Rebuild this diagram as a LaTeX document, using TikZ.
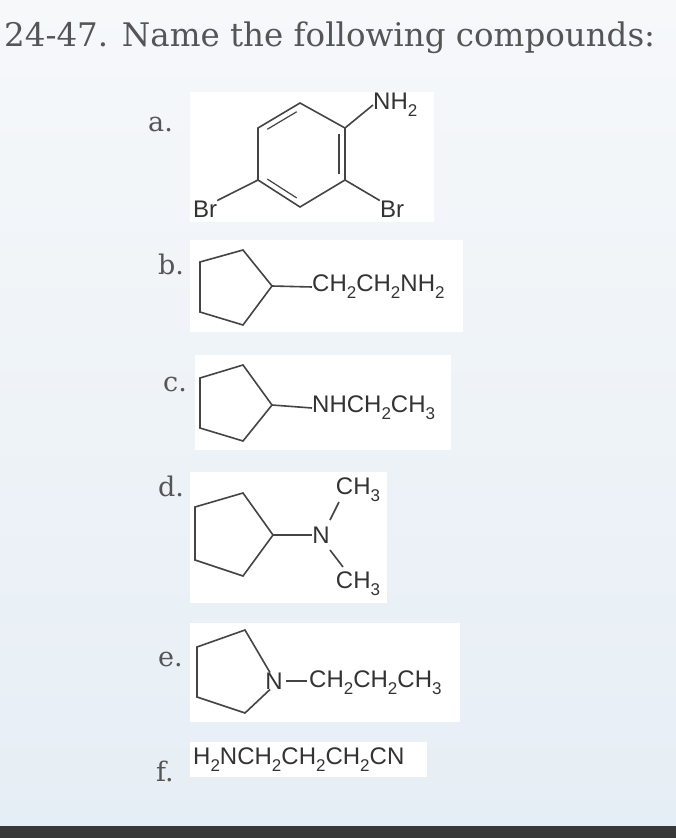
\documentclass[tikz,border=0pt]{standalone}
\usepackage{fontspec}
\usetikzlibrary{calc}
\setmainfont{DejaVu Serif}
\newfontfamily\chemf{Liberation Sans}
\newcommand{\chs}[1]{\raisebox{-0.3em}{\fontsize{17}{17}\selectfont #1}}
\definecolor{bgtop}{HTML}{F6F8FA}
\definecolor{bgbot}{HTML}{E6EEF5}
\definecolor{ink}{HTML}{555555}
\definecolor{bond}{HTML}{444444}
\tikzset{
  lbl/.style={anchor=base west,inner sep=0,text=ink,font=\fontsize{27}{27}\selectfont},
  chem/.style={inner sep=0,text=black!80,font=\chemf\fontsize{24}{24}\selectfont},
  bd/.style={draw=bond,line width=1.6pt},
  whitebox/.style={fill=white,draw=none}
}
\begin{document}
\begin{tikzpicture}[x=1pt,y=-1pt]
\useasboundingbox (0,0) rectangle (676,838);
\shade[top color=bgtop,bottom color=bgbot] (0,0) rectangle (676,826);
\fill[black!78] (0,826) rectangle (676,838);
\node[anchor=base west,inner sep=0,text=ink,font=\fontsize{32.5}{32.5}\selectfont] (title) at (4,46) {24-47. Name the following compounds:};
% white boxes
\fill[whitebox] (190,92) rectangle (434,222);
\fill[whitebox] (190,240) rectangle (463,332);
\fill[whitebox] (195,355) rectangle (451,450);
\fill[whitebox] (190,472) rectangle (387,603);
\fill[whitebox] (190,623) rectangle (460,722);
\fill[whitebox] (190,742) rectangle (427,777);
% labels
\node[lbl] (la) at (148,131) {a.};
\node[lbl] (lb) at (158,274) {b.};
\node[lbl] (lc) at (163,391) {c.};
\node[lbl] (ld) at (158,496) {d.};
\node[lbl] (le) at (158,666) {e.};
\node[lbl] (lf) at (156,781) {f.};
% a: benzene
\coordinate (a1) at (300,103); \coordinate (a2) at (345,128); \coordinate (a3) at (345,180);
\coordinate (a4) at (300,207); \coordinate (a5) at (258,180); \coordinate (a6) at (258,128);
\draw[bd] (a1)--(a2)--(a3)--(a4)--(a5)--(a6)--cycle;
\draw[bd,line width=1.2pt] ($(a6)!0.15!(a1)+(3,5)$) -- ($(a6)!0.85!(a1)+(3,5)$);
\draw[bd,line width=1.2pt] ($(a2)!0.12!(a3)+(-6,0)$) -- ($(a2)!0.88!(a3)+(-6,0)$);
\draw[bd,line width=1.2pt] ($(a5)!0.15!(a4)+(3,-5)$) -- ($(a5)!0.85!(a4)+(3,-5)$);
\node[chem,anchor=west] (nh2a) at (373,105) {NH\chs{2}};
\node[chem] (bra) at (392,209) {Br};
\node[chem] (brb) at (205,209) {Br};
\draw[bd] (a2) -- (nh2a.west);
\draw[bd] (a3) -- (bra.north west);
\draw[bd] (a5) -- (brb.north east);
% b
\coordinate (b1) at (243,250); \coordinate (b2) at (272,286); \coordinate (b3) at (243,325);
\coordinate (b4) at (200,312); \coordinate (b5) at (200,262);
\draw[bd] (b1)--(b2)--(b3)--(b4)--(b5)--cycle;
\node[chem,anchor=west] (tb) at (312,287) {CH\chs{2}CH\chs{2}NH\chs{2}};
\draw[bd] (b2) -- (tb.west);
% c
\coordinate (c1) at (243,365); \coordinate (c2) at (272,405); \coordinate (c3) at (243,441);
\coordinate (c4) at (200,428); \coordinate (c5) at (200,378);
\draw[bd] (c1)--(c2)--(c3)--(c4)--(c5)--cycle;
\node[chem,anchor=west] (tc) at (312,408) {NHCH\chs{2}CH\chs{3}};
\draw[bd] (c2) -- (tc.west);
% d
\coordinate (d1) at (243,493); \coordinate (d2) at (273,535); \coordinate (d3) at (243,576);
\coordinate (d4) at (195,560); \coordinate (d5) at (195,507);
\draw[bd] (d1)--(d2)--(d3)--(d4)--(d5)--cycle;
\node[chem] (nd) at (321,535) {N};
\node[chem] (cd1) at (358,490) {CH\chs{3}};
\node[chem] (cd2) at (358,584) {CH\chs{3}};
\draw[bd] (d2) -- (nd.west);
\draw[bd] (330,520) -- (339,502);
\draw[bd] (330,550) -- (343,567);
% e
\coordinate (e1) at (245,630); \coordinate (e3) at (245,713);
\coordinate (e4) at (197,697); \coordinate (e5) at (197,647);
\node[chem] (ne) at (274,681) {N};
\draw[bd] ($(ne.north)+(-4,0)$) -- (e1) -- (e5) -- (e4) -- (e3) -- ($(ne.south)+(-4,0)$);
\node[chem,anchor=west] (te) at (309,683) {CH\chs{2}CH\chs{2}CH\chs{3}};
\draw[bd] ($(ne.east)+(3,0)$) -- ($(te.west)+(-2,-2)$);
% f
\node[chem,anchor=west] (tf) at (193,760) {H\chs{2}NCH\chs{2}CH\chs{2}CH\chs{2}CN};
\end{tikzpicture}
\end{document}
